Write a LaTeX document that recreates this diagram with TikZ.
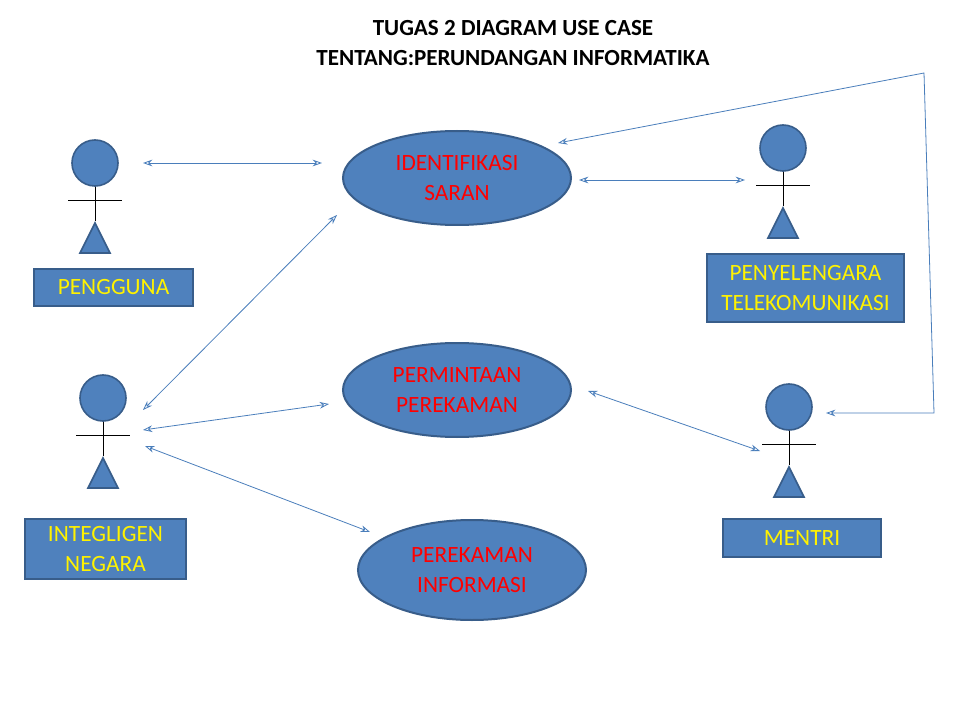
\documentclass[tikz,border=0pt]{standalone}
\usepackage{fontspec}
\setmainfont{Carlito}
\usetikzlibrary{arrows.meta,shapes.geometric}
\definecolor{fillb}{HTML}{4F81BD}
\definecolor{edgeb}{HTML}{385D8A}
\definecolor{lineb}{HTML}{4A7EBB}
\tikzset{
 uc/.style={ellipse,draw=edgeb,line width=1.5pt,fill=fillb,text=red,align=center,font=\fontsize{17.5}{22.5}\selectfont,inner sep=0pt},
 lbl/.style={draw=edgeb,line width=1.5pt,fill=fillb,text=yellow,align=center,font=\fontsize{17.5}{22.5}\selectfont,inner sep=0pt},
 part/.style={draw=edgeb,line width=1.2pt,fill=fillb},
 stick/.style={draw=black,line width=0.5pt},
 conn/.style={draw=lineb,line width=0.6pt,{Stealth[length=7pt,width=5pt,open]}-{Stealth[length=7pt,width=5pt,open]}},
}
\begin{document}
\begin{tikzpicture}[x=0.75pt,y=-0.75pt]
\useasboundingbox (0,0) rectangle (960,720);
\node[font=\bfseries\fontsize{17.3}{22}\selectfont,align=center] (title) at (513,43) {TUGAS 2 DIAGRAM USE CASE\\TENTANG:PERUNDANGAN INFORMATIKA};
% use cases
\node[uc,minimum width=171pt,minimum height=70.5pt] (u1) at (457,178) {IDENTIFIKASI\\SARAN};
\node[uc,minimum width=171pt,minimum height=70.5pt] (u2) at (457,390) {PERMINTAAN\\PEREKAMAN};
\node[uc,minimum width=171pt,minimum height=75pt] (u3) at (472,570) {PEREKAMAN\\INFORMASI};
% actors
\newcommand{\actor}[2]{%
 \draw[stick] (#1,#2+23) -- (#1,#2+58);
 \draw[stick] (#1-27,#2+37) -- (#1+27,#2+37);
 \draw[part] (#1-15,#2+90) -- (#1+15,#2+90) -- (#1,#2+60) -- cycle;
 \draw[part] (#1,#2) circle (23);
}
\actor{95}{163}
\actor{103}{398}
\actor{783}{148}
\actor{789}{407}
\node[lbl,minimum width=119.25pt,minimum height=27.75pt] (l1) at (113.5,287.5) {PENGGUNA};
\node[lbl,minimum width=120.75pt,minimum height=45pt] (l2) at (105.5,549) {INTEGLIGEN\\NEGARA};
\node[lbl,minimum width=147.75pt,minimum height=51pt] (l3) at (805.5,288) {PENYELENGARA\\TELEKOMUNIKASI};
\node[lbl,minimum width=118.5pt,minimum height=28.5pt] (l4) at (802,538) {MENTRI};
% connector endpoints
\coordinate (p1) at (143,163); \coordinate (q1) at (322,163);
\coordinate (p2) at (579,180); \coordinate (q2) at (745,180);
\coordinate (p3) at (143,410); \coordinate (q3) at (337,215);
\coordinate (p4) at (143,430); \coordinate (q4) at (329,404);
\coordinate (p5) at (145,446); \coordinate (q5) at (370,532);
\coordinate (p6) at (588,391); \coordinate (q6) at (760,451);
\coordinate (p7) at (826,413); \coordinate (k1) at (934,413); \coordinate (k2) at (924,73); \coordinate (q7) at (558,143);
\draw[conn] (p1) -- (q1);
\draw[conn] (p2) -- (q2);
\draw[conn] (p3) -- (q3);
\draw[conn] (p4) -- (q4);
\draw[conn] (p5) -- (q5);
\draw[conn] (p6) -- (q6);
\draw[conn] (p7) -- (k1) -- (k2) -- (q7);
\end{tikzpicture}
\end{document}
